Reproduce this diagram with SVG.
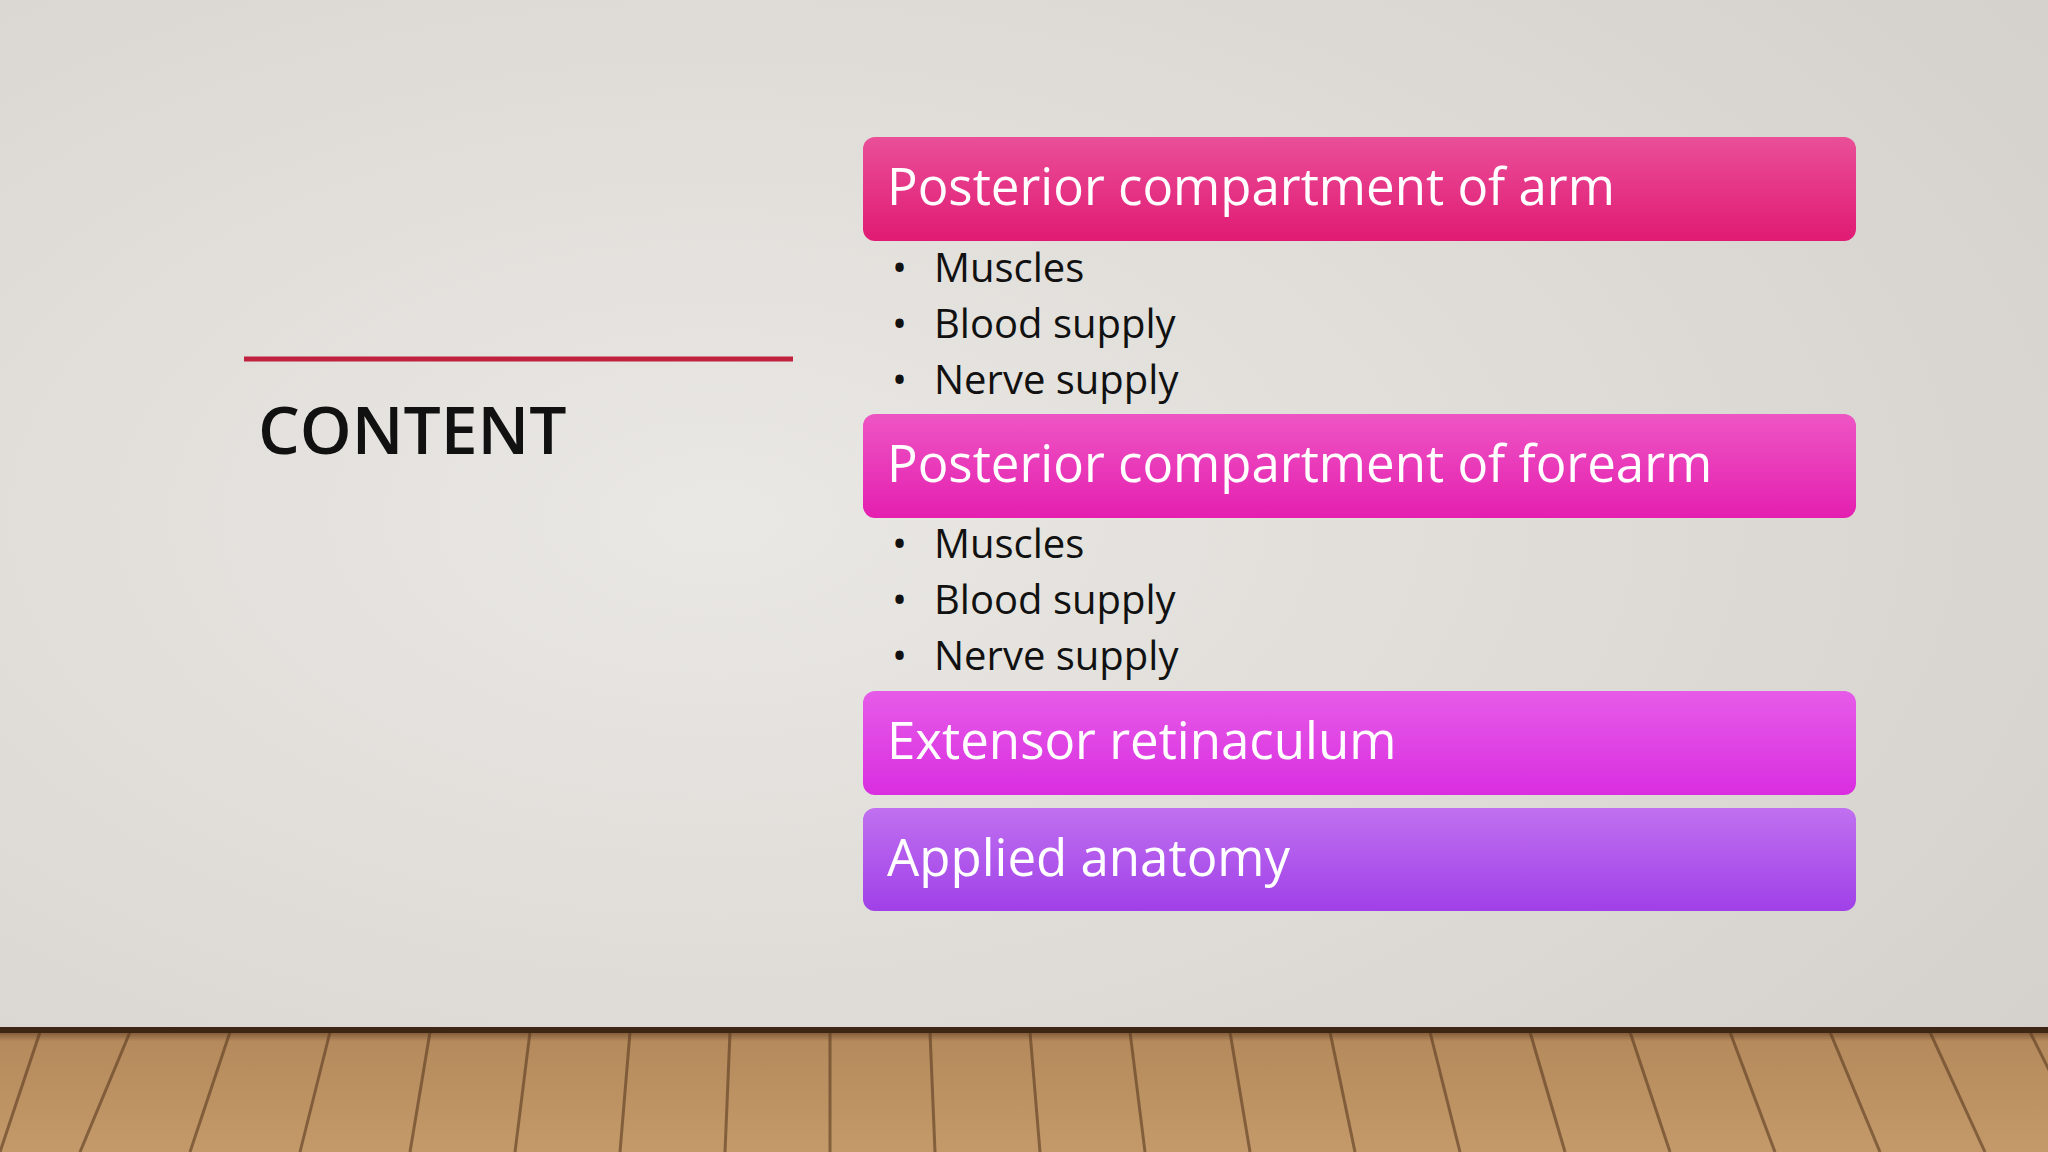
<svg xmlns="http://www.w3.org/2000/svg" width="2048" height="1152" viewBox="0 0 2048 1152">
<defs>
<radialGradient id="bg" cx="0.35" cy="0.45" r="0.8">
<stop offset="0" stop-color="#eae8e4"/><stop offset="1" stop-color="#d4d1cc"/>
</radialGradient>
<linearGradient id="wood" x1="0" y1="0" x2="0" y2="1">
<stop offset="0" stop-color="#6e4a2c"/><stop offset="0.1" stop-color="#b58a5c"/><stop offset="1" stop-color="#c49a6a"/>
</linearGradient>
<linearGradient id="g1" x1="0" y1="0" x2="0" y2="1"><stop offset="0" stop-color="#ea4f98"/><stop offset="1" stop-color="#e01a74"/></linearGradient>
<linearGradient id="g2" x1="0" y1="0" x2="0" y2="1"><stop offset="0" stop-color="#ee55c4"/><stop offset="1" stop-color="#e41fb0"/></linearGradient>
<linearGradient id="g3" x1="0" y1="0" x2="0" y2="1"><stop offset="0" stop-color="#e65be8"/><stop offset="1" stop-color="#d92ee0"/></linearGradient>
<linearGradient id="g4" x1="0" y1="0" x2="0" y2="1"><stop offset="0" stop-color="#c070f0"/><stop offset="1" stop-color="#a040e8"/></linearGradient>
</defs>
<style>
.bt{font-family:"Open Sans","Noto Sans",sans-serif;font-size:51px;fill:#fff}
.li{font-family:"Open Sans","Noto Sans",sans-serif;font-size:40px;fill:#111}
</style>
<rect width="2048" height="1152" fill="url(#bg)"/>
<g id="floor">
<rect y="1029" width="2048" height="123" fill="url(#wood)"/>
<g stroke="#5a3a20" stroke-width="3" opacity="0.6">
<line x1="40" y1="1032" x2="0" y2="1152"/><line x1="130" y1="1032" x2="80" y2="1152"/><line x1="230" y1="1032" x2="190" y2="1152"/><line x1="330" y1="1032" x2="300" y2="1152"/><line x1="430" y1="1032" x2="410" y2="1152"/><line x1="530" y1="1032" x2="515" y2="1152"/><line x1="630" y1="1032" x2="620" y2="1152"/><line x1="730" y1="1032" x2="725" y2="1152"/><line x1="830" y1="1032" x2="830" y2="1152"/><line x1="930" y1="1032" x2="935" y2="1152"/><line x1="1030" y1="1032" x2="1040" y2="1152"/><line x1="1130" y1="1032" x2="1145" y2="1152"/><line x1="1230" y1="1032" x2="1250" y2="1152"/><line x1="1330" y1="1032" x2="1355" y2="1152"/><line x1="1430" y1="1032" x2="1460" y2="1152"/><line x1="1530" y1="1032" x2="1565" y2="1152"/><line x1="1630" y1="1032" x2="1670" y2="1152"/><line x1="1730" y1="1032" x2="1775" y2="1152"/><line x1="1830" y1="1032" x2="1880" y2="1152"/><line x1="1930" y1="1032" x2="1985" y2="1152"/><line x1="2030" y1="1032" x2="2090" y2="1152"/>
</g>
<rect y="1027" width="2048" height="6" fill="#3e2614"/>
</g>
<g id="title">
<line x1="244" y1="359" x2="793" y2="359" stroke="#c0213f" stroke-width="5"/>
<text x="258" y="454" font-family="Open Sans, Noto Sans, sans-serif" font-size="66" font-weight="600" fill="#111">CONTENT</text>
</g>
<g id="box1"><rect x="863" y="137" width="993" height="104" rx="12" fill="url(#g1)"/><text class="bt" x="887" y="205">Posterior compartment of arm</text></g>
<g id="list1"><text class="li" x="892" y="282">•</text><text class="li" x="934" y="282">Muscles</text><text class="li" x="892" y="338">•</text><text class="li" x="934" y="338">Blood supply</text><text class="li" x="892" y="394">•</text><text class="li" x="934" y="394">Nerve supply</text></g>
<g id="box2"><rect x="863" y="414" width="993" height="104" rx="12" fill="url(#g2)"/><text class="bt" x="887" y="482">Posterior compartment of forearm</text></g>
<g id="list2"><text class="li" x="892" y="558">•</text><text class="li" x="934" y="558">Muscles</text><text class="li" x="892" y="614">•</text><text class="li" x="934" y="614">Blood supply</text><text class="li" x="892" y="670">•</text><text class="li" x="934" y="670">Nerve supply</text></g>
<g id="box3"><rect x="863" y="691" width="993" height="104" rx="12" fill="url(#g3)"/><text class="bt" x="887" y="759">Extensor retinaculum</text></g>
<g id="box4"><rect x="863" y="808" width="993" height="103" rx="12" fill="url(#g4)"/><text class="bt" x="887" y="876">Applied anatomy</text></g>
<g id="connectors"/>
</svg>
